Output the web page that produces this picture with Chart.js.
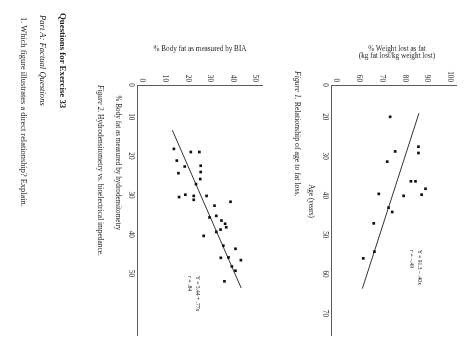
<!DOCTYPE html>
<html>
<head>
<meta charset="utf-8">
<script src="https://cdn.jsdelivr.net/npm/chart.js@4.4.1/dist/chart.umd.min.js"></script>
<style>
    html, body { margin: 0; padding: 0; background: #fff; overflow: hidden; }
    body { width: 474px; height: 351px; position: relative; }
    /* the scanned page lies on its side: lay it out upright, then turn it */
    #page {
        position: absolute; left: 0; top: 0; width: 351px; height: 474px;
        transform-origin: 0 0; transform: translate(474px, 0) rotate(90deg);
        font-family: 'Liberation Serif', 'Times New Roman', serif; color: #1c1c1c;
    }
    #page canvas { position: absolute; left: 0; }
    .t { position: absolute; white-space: nowrap; line-height: 1; transform: translateY(-50%); }
    .c { position: absolute; white-space: nowrap; line-height: 1; transform: translate(-50%, -50%); }
    .vt { position: absolute; white-space: nowrap; text-align: center; transform: translate(-50%, -50%) rotate(-90deg); }
</style>
</head>
<body>
<div id="page">
    <canvas id="fig1" width="351" height="162" style="top:0"></canvas>
    <canvas id="fig2" width="351" height="162" style="top:194px"></canvas>

    <div class="vt" style="left:53px; top:77px; font-size:7.2px; line-height:7.4px;">% Weight lost as fat<br>(kg fat lost/kg weight lost)</div>
    <div class="c" style="left:201px; top:164px; font-size:7.2px;">Age (years)</div>
    <div class="t" style="left:71px; top:177px; font-size:7.8px;"><i>Figure 1.</i> Relationship of age to fat loss.</div>
    <div class="t" style="left:250px; top:55px; font-size:5.6px;">Y = 91.3 &#8211; .40x</div>
    <div class="t" style="left:250px; top:63.3px; font-size:5.6px;"><i>r</i> = &#8211;.49</div>

    <div class="vt" style="left:49.3px; top:274px; font-size:7.2px;">% Body fat as measured by BIA</div>
    <div class="c" style="left:163px; top:357.3px; font-size:7.2px;">% Body fat as measured by hydrodensitometry</div>
    <div class="t" style="left:85px; top:374px; font-size:7.4px;"><i>Figure 2.</i> Hydrodensitometry vs. bioelectrical impedance.</div>
    <div class="t" style="left:276px; top:277.3px; font-size:5.6px;">Y = 5.44 + .77x</div>
    <div class="t" style="left:276px; top:284.7px; font-size:5.6px;"><i>r</i> = .84</div>

    <div class="t" style="left:13px; top:410.7px; font-size:8.8px; font-weight:bold;">Questions for Exercise 33</div>
    <div class="t" style="left:15px; top:431.3px; font-size:8.6px; font-style:italic;">Part A: Factual Questions</div>
    <div class="t" style="left:17px; top:450.7px; font-size:8.4px;">1. Which figure illustrates a direct relationship? Explain.</div>
</div>

<script>
// Figure 1: age against share of weight lost as fat
const ageYears = [20, 27.6, 29.2, 28.8, 31.4, 36.4, 36.4, 38.3, 39.6, 40.1, 39.8, 43.1, 44.2, 47.1, 54.3, 56.0];
const fatLossPct = [73.7, 86.1, 86.1, 75.9, 72.4, 82.8, 84.8, 89.2, 68.7, 79.6, 87.5, 73.0, 74.6, 66.5, 66.8, 61.9];
const ageFitX = [19.1, 63.7];
const ageFitY = [86.3, 61.5];
const ageTicks = [11.9, 20, 30, 40, 50, 60, 70];
const ageTickLabels = ['0', '20', '30', '40', '50', '60', '70'];
const fatLossTicks = [50, 60, 70, 80, 90, 100];
const fatLossTickLabels = ['0', '60', '70', '80', '90', '100'];

// Figure 2: hydrodensitometry against bioelectrical impedance
const hydroPct = [18.2, 19.0, 19.0, 21.2, 22.7, 22.5, 24.4, 24.1, 25.9, 27.2, 30.5, 29.9, 30.2, 31.2, 30.2, 31.7, 32.7,
    35.7, 35.3, 36.5, 37.3, 38.2, 38.8, 39.4, 40.4, 42.9, 43.7, 46.0, 45.9, 46.6, 48.2, 49.3, 52.0];
const biaPct = [14.0, 21.5, 25.3, 15.3, 18.8, 25.9, 16.0, 25.9, 25.7, 23.8, 16.3, 19.1, 22.8, 22.8, 28.5, 39.1, 32.0,
    29.8, 32.8, 35.1, 36.7, 37.2, 34.7, 32.8, 27.2, 35.9, 41.3, 34.8, 38.2, 43.7, 39.7, 41.3, 36.4];
const hydroFitX = [13.4, 53.7];
const hydroFitY = [13.3, 43.8];
const hydroTicks = [1.9, 10, 20, 30, 40, 50];
const hydroTickLabels = ['0', '10', '20', '30', '40', '50'];
const biaTicks = [0, 10, 20, 30, 40, 50];
const biaTickLabels = ['0', '10', '20', '30', '40', '50'];

const FONT = "'Liberation Serif', 'Times New Roman', serif";

function toPoints(xs, ys) {
    return xs.map((x, i) => ({ x: x, y: ys[i] }));
}

function makeAxis(min, max, tickValues, tickLabels, isX) {
    return {
        type: 'linear',
        min: min,
        max: max,
        grid: { display: false, drawTicks: false },
        border: { display: true, color: '#5a5a5a', width: 1 },
        afterBuildTicks: (scale) => {
            scale.ticks = tickValues.map(v => ({ value: v }));
        },
        afterFit: (scale) => {
            if (isX) scale.height = 18;
            else scale.width = 30;
        },
        ticks: {
            autoSkip: false,
            maxRotation: 0,
            padding: 3,
            color: '#222',
            font: { family: FONT, size: 7.2 },
            callback: (value, index) => tickLabels[index]
        }
    };
}

function makeFigure(id, xs, ys, fitX, fitY, xAxis, yAxis) {
    const ctx = document.getElementById(id);
    return new Chart(ctx, {
        type: 'scatter',
        data: {
            datasets: [{
                data: toPoints(xs, ys),
                pointStyle: 'rect',
                pointRadius: 1.9,
                backgroundColor: '#111',
                borderWidth: 0
            }, {
                data: toPoints(fitX, fitY),
                showLine: true,
                pointRadius: 0,
                borderColor: '#333',
                borderWidth: 1,
                fill: false
            }]
        },
        options: {
            responsive: false,
            animation: false,
            events: [],
            layout: { padding: { left: 55, right: 16, top: 17, bottom: 2 } },
            plugins: { legend: { display: false }, tooltip: { enabled: false } },
            scales: { x: xAxis, y: yAxis }
        }
    });
}

makeFigure('fig1', ageYears, fatLossPct, ageFitX, ageFitY,
    makeAxis(11.9, 75.5, ageTicks, ageTickLabels, true),
    makeAxis(48.2, 103, fatLossTicks, fatLossTickLabels, false));

makeFigure('fig2', hydroPct, biaPct, hydroFitX, hydroFitY,
    makeAxis(1.9, 65.7, hydroTicks, hydroTickLabels, true),
    makeAxis(-1.9, 53.5, biaTicks, biaTickLabels, false));
</script>
</body>
</html>
